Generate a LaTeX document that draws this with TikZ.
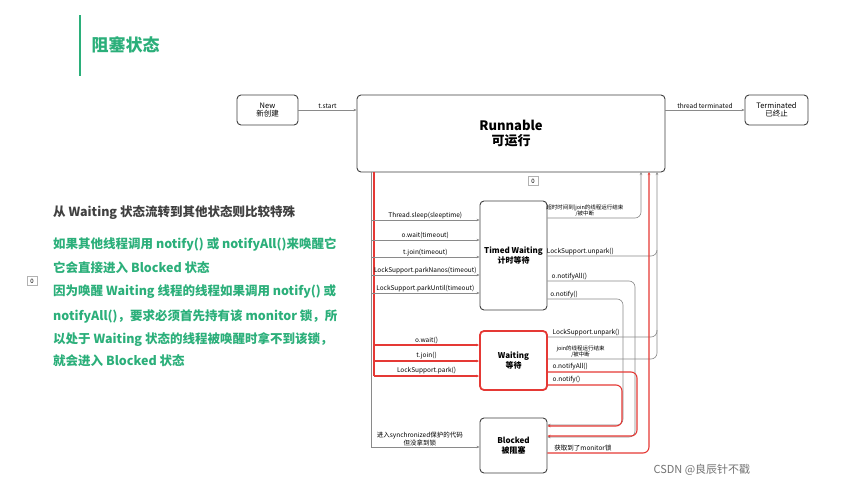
\documentclass[tikz,border=0pt]{standalone}
\usepackage{fontspec}
\setmainfont{Noto Sans CJK SC}
\usetikzlibrary{arrows.meta}
\definecolor{cg}{HTML}{2BAF7A}
\definecolor{rd}{HTML}{E53935}
\definecolor{gl}{HTML}{8A8A8A}
\begin{document}
\begin{tikzpicture}[x=1pt,y=-1pt,
  st/.style={draw=black!75,line width=0.9pt,rounded corners=4pt,align=center,inner sep=0pt,font=\fontsize{7.5}{8.5}\selectfont},
  gline/.style={draw=gl,line width=0.6pt,rounded corners=6pt},
  rline/.style={draw=rd,line width=1.1pt,rounded corners=6pt},
  ar/.style={-{Stealth[length=3pt,width=2.5pt]}},
  lab/.style={font=\fontsize{6.5}{7.5}\selectfont,inner sep=1pt,align=center},
  gt/.style={anchor=west,text=cg,font=\fontsize{12.5}{13.5}\bfseries\selectfont,inner sep=0pt},
  zero/.style={draw=black!30,font=\fontsize{6}{6}\selectfont,minimum width=10pt,minimum height=9pt,inner sep=0pt}]
\useasboundingbox (0,0) rectangle (841,490);
\fill[white] (0,0) rectangle (841,490);
% title
\draw[cg,line width=2pt] (80,15) -- (80,76);
\node[anchor=west,text=cg,font=\fontsize{17}{18}\bfseries\selectfont] (title) at (88,45) {阻塞状态};
% left text
\node[anchor=west,text=black!75,font=\fontsize{12.5}{14}\bfseries\selectfont,inner sep=0pt] (h) at (53,213) {从 Waiting 状态流转到其他状态则比较特殊};
\node[gt] (t1) at (53,244) {如果其他线程调用 notify() 或 notifyAll()来唤醒它};
\node[gt] (t2) at (53,268) {它会直接进入 Blocked 状态};
\node[gt] (t3) at (53,292) {因为唤醒 Waiting 线程的线程如果调用 notify() 或};
\node[gt] (t4) at (53,316) {notifyAll()，要求必须首先持有该 monitor 锁，所};
\node[gt] (t5) at (53,340) {以处于 Waiting 状态的线程被唤醒时拿不到该锁，};
\node[gt] (t6) at (53,361) {就会进入 Blocked 状态};
\node[zero] (z1) at (32,281) {0};
\node[zero] (z2) at (533,181) {0};
% states
\node[st,minimum width=61pt,minimum height=30pt] (new) at (267.5,110) {New\\新创建};
\node[st,minimum width=308pt,minimum height=77pt,font=\fontsize{13}{15}\bfseries\selectfont] (run) at (511,133.5) {Runnable\\可运行};
\node[st,minimum width=63pt,minimum height=30pt] (term) at (776.5,110) {Terminated\\已终止};
\node[st,minimum width=67pt,minimum height=109pt,font=\fontsize{8}{10}\bfseries\selectfont] (tw) at (513.5,255.5) {Timed Waiting\\计时等待};
\node[st,draw=rd,line width=1.8pt,minimum width=67pt,minimum height=59pt,font=\fontsize{8}{10}\bfseries\selectfont] (wt) at (513.5,360.5) {Waiting\\等待};
\node[st,minimum width=67pt,minimum height=55pt,font=\fontsize{8}{10}\bfseries\selectfont] (bl) at (513.5,445.5) {Blocked\\被阻塞};
% top connectors
\draw[gline,ar] (new.east) -- node[lab,above] {t.start} (run.west|-new.east);
\draw[gline,ar] (run.east|-term.west) -- node[lab,above] {thread terminated} (term.west);
% left verticals
\coordinate (lg) at (371,172);
\coordinate (lr) at (374,172);
\coordinate (r1) at (641,172);
\coordinate (r2) at (649,172);
\coordinate (r3) at (657,172);
\draw[gline] (lg) -- (371,447);
\draw[gline,ar] (371,447) -- node[lab,above,pos=0.45] {进入synchronized保护的代码\\但没拿到锁} (bl.west|-0,447);
\draw[rline,rounded corners=0pt] (lr) -- (374,376);
\foreach \y/\t in {220/Thread.sleep(sleeptime),240/o.wait(timeout),257/t.join(timeout),275/LockSupport.parkNanos(timeout),293/LockSupport.parkUntil(timeout)}
  \draw[gline,ar] (371,\y) -- node[lab,above] {\t} (tw.west|-0,\y);
\foreach \y/\t in {345/o.wait(),361/t.join(),376/LockSupport.park()}
  \draw[rline,ar] (374,\y) -- node[lab,above] {\t} (wt.west|-0,\y);
% returns to runnable
\draw[gline,ar] (tw.east|-0,218) -- node[lab,above,pos=0.4,text width=80pt,font=\fontsize{5.5}{6.5}\selectfont] {超时时间到|join的线程运行结束\\/被中断} (641,218) -- (r1);
\draw[gline,ar] (tw.east|-0,256) -- node[lab,above,pos=0.3] {LockSupport.unpark()} (657,256) -- (r3);
\draw[gline] (wt.east|-0,337) -- node[lab,above,pos=0.35] {LockSupport.unpark()} (657,337) -- (657,250);
\draw[gline] (wt.east|-0,359) -- node[lab,above,pos=0.3,text width=60pt,font=\fontsize{5.5}{6.5}\selectfont] {join的线程运行结束\\/被中断} (657,359) -- (657,330);
\draw[gline,ar] (tw.east|-0,281) -- node[lab,above,pos=0.25] {o.notifyAll()} (635,281) -- (635,437) -- (bl.east|-0,437);
\draw[gline,ar] (tw.east|-0,299) -- node[lab,above,pos=0.22] {o.notify()} (623,299) -- (623,425) -- (bl.east|-0,425);
\draw[rline,ar] (wt.east|-0,372) -- node[lab,above,pos=0.25] {o.notifyAll()} (637,372) -- (637,436) -- (bl.east|-0,436);
\draw[rline,ar] (wt.east|-0,385) -- node[lab,above,pos=0.25] {o.notify()} (622,385) -- (622,426) -- (bl.east|-0,426);
\draw[rline,ar] (bl.east|-0,453) -- node[lab,above,pos=0.35] {获取到了monitor锁} (649,453) -- (r2);
% watermark
\node[anchor=west,text=black!55,font=\fontsize{11}{12}\selectfont] (wm) at (650,470) {CSDN @良辰针不戳};
\end{tikzpicture}
\end{document}
